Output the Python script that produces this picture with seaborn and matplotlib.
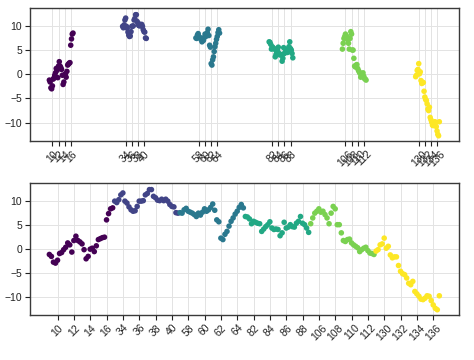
import numpy as np
import pandas as pd
import matplotlib
matplotlib.use("Agg")
import matplotlib.pyplot as plt
import seaborn as sns

# six daily windows, 9:00-16:45 in 15 min steps, offset by 24 h
day_starts = [9, 33, 57, 81, 105, 129]
step = 0.25

values_day1 = [-1.2, -1.6, -2.8, -3.0, -2.4, -1.0, -0.8, -0.2, 0.3, 1.2, 0.8, -0.7,
               1.7, 2.6, 1.7, 1.4, 1.0, -0.2, -2.1, -1.6, -0.1, 0.1, -0.6, 0.6,
               1.9, 2.1, 2.3, 2.4, 6.0, 7.3, 8.3, 8.5]
values_day2 = [9.9, 9.6, 10.2, 11.2, 11.6, 9.9, 9.5, 8.7, 8.1, 7.8, 7.9, 8.8,
               9.9, 9.9, 10.0, 11.2, 11.5, 12.3, 12.3, 10.9, 10.6, 10.1, 10.0, 10.3,
               10.0, 10.3, 9.9, 9.2, 8.8, 8.7, 7.5, 7.4]
values_day3 = [7.5, 7.4, 8.1, 8.4, 7.8, 7.6, 7.4, 7.1, 6.7, 7.4, 7.0, 7.6,
               8.3, 7.8, 8.1, 8.6, 9.3, 8.0, 6.0, 5.6, 2.2, 1.9, 3.0, 3.6,
               4.7, 5.7, 6.4, 7.2, 7.8, 8.6, 9.2, 8.5]
values_day4 = [6.7, 6.6, 6.2, 5.2, 5.7, 5.5, 5.3, 5.2, 3.6, 4.1, 4.6, 5.0,
               5.6, 4.3, 4.0, 4.1, 4.0, 2.7, 3.3, 5.5, 4.3, 4.5, 5.0, 4.6,
               4.5, 5.3, 5.7, 6.7, 5.3, 5.0, 4.3, 3.4]
values_day5 = [5.2, 6.4, 7.4, 7.8, 8.3, 7.6, 7.8, 7.1, 6.4, 5.2, 7.4, 8.8,
               8.3, 5.0, 5.0, 3.3, 1.7, 1.5, 1.9, 2.0, 1.2, 0.8, 0.5, 0.2,
               -0.6, -0.2, 0.1, 0.3, -0.4, -0.9, -1.0, -1.2]
values_day6 = [-0.5, -0.2, 0.8, 1.0, 2.2, 0.1, 0.5, -1.3, -1.9, -1.7, -1.7, -3.5,
               -4.7, -5.2, -5.4, -6.1, -7.2, -7.5, -6.8, -8.9, -9.4, -9.9, -10.5, -10.6,
               -10.3, -9.8, -9.9, -10.8, -11.7, -12.4, -12.7, -9.8]

tick_values = [10, 12, 14, 16, 34, 36, 38, 40, 58, 60, 62, 64,
               82, 84, 86, 88, 106, 108, 110, 112, 130, 132, 134, 136]

all_values = [values_day1, values_day2, values_day3, values_day4, values_day5, values_day6]

rows = []
for day, (start, vals) in enumerate(zip(day_starts, all_values)):
    for i, v in enumerate(vals):
        rows.append({'hour': start + i * step, 'value': v, 'day': day})
df = pd.DataFrame(rows)
df['idx'] = np.arange(len(df))

palette = [plt.cm.viridis(v) for v in np.linspace(0, 1, 6)]

sns.set_theme(style="whitegrid", rc={
    'axes.edgecolor': '#3a3a3a',
    'axes.linewidth': 1.0,
    'grid.color': '#e3e3e3',
    'grid.linewidth': 0.7,
    'xtick.bottom': True,
    'ytick.left': True,
    'xtick.major.size': 3.5,
    'ytick.major.size': 3.5,
    'xtick.major.width': 0.8,
    'ytick.major.width': 0.8,
    'xtick.color': '#222222',
    'ytick.color': '#222222',
    'xtick.labelsize': 7.5,
    'ytick.labelsize': 7.5,
})
plt.rcParams['font.family'] = ['Liberation Sans', 'DejaVu Sans']

fig = plt.figure(figsize=(4.74, 3.6), dpi=100)
ax1 = fig.add_axes([0.063, 0.608, 0.905, 0.37])
ax2 = fig.add_axes([0.063, 0.125, 0.905, 0.367])

# top: real time axis, gaps visible
sns.scatterplot(data=df, x='hour', y='value', hue='day', palette=palette,
                s=16, linewidth=0, legend=False, ax=ax1)
ax1.set_xticks(tick_values)
ax1.set_xticklabels([str(t) for t in tick_values], rotation=45)

# bottom: same data on index axis, gaps removed
sns.scatterplot(data=df, x='idx', y='value', hue='day', palette=palette,
                s=16, linewidth=0, legend=False, ax=ax2)
tick_idx = [df.index[df['hour'] == t][0] for t in tick_values]
ax2.set_xticks(tick_idx)
ax2.set_xticklabels([str(t) for t in tick_values], rotation=45)

for ax in (ax1, ax2):
    ax.set_ylim(-13.8, 13.7)
    ax.set_yticks([-10, -5, 0, 5, 10])
    ax.set_xlabel('')
    ax.set_ylabel('')
    ax.tick_params(axis='both', pad=2)

fig.savefig('out.png', dpi=100)
